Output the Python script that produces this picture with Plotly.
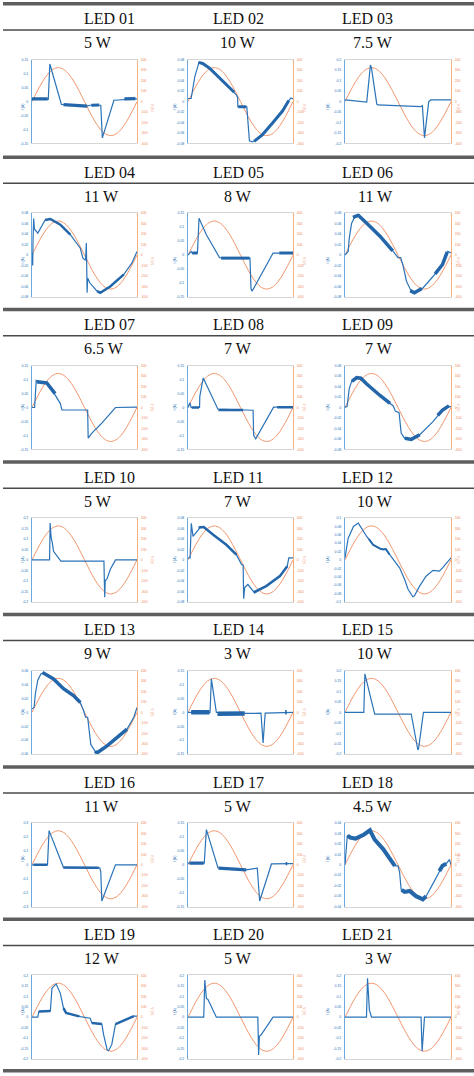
import plotly.graph_objects as go

# ---------------- data ----------------
NAMES = ["LED 01", "LED 02", "LED 03", "LED 04", "LED 05", "LED 06", "LED 07",
         "LED 08", "LED 09", "LED 10", "LED 11", "LED 12", "LED 13", "LED 14",
         "LED 15", "LED 16", "LED 17", "LED 18", "LED 19", "LED 20", "LED 21"]
POWER = ["5 W", "10 W", "7.5 W", "11 W", "8 W", "11 W", "6.5 W", "7 W", "7 W",
         "5 W", "7 W", "10 W", "9 W", "3 W", "10 W", "11 W", "5 W", "4.5 W",
         "12 W", "5 W", "3 W"]
I_MAX = [0.15, 0.08, 0.2, 0.08, 0.15, 0.08, 0.15, 0.15, 0.08, 0.2, 0.08, 0.1,
         0.06, 0.15, 0.2, 0.3, 0.15, 0.04, 0.2, 0.2, 0.2]
I_STEP = [0.05, 0.02, 0.05, 0.02, 0.05, 0.02, 0.05, 0.05, 0.02, 0.05, 0.02, 0.02,
          0.02, 0.05, 0.05, 0.1, 0.05, 0.01, 0.05, 0.05, 0.05]
V_TICKS = [-400, -300, -200, -100, 0, 100, 200, 300, 400]

# voltage (ms, V)
V_T = [0, 1, 2, 3, 4, 5, 6, 7, 8, 9, 10, 11, 12, 13, 14, 15, 16, 17, 18, 19, 20]
V_V = [0, 100, 191, 263, 309, 325, 309, 263, 191, 100, 0, -100, -191, -263,
       -309, -325, -309, -263, -191, -100, 0]

# current (ms, A): main trace and noisy (thick) portions
LED01_T = [0, 3.1, 3.4, 5.6, 10.5, 11.0, 13.1, 13.4, 15.6, 17.5, 20]
LED01_I = [0.01, 0.008, 0.135, -0.01, -0.016, -0.013, -0.013, -0.13, 0.005, 0.008, 0.01]
LED01_BT = [0, 3.0, None, 6.0, 10.5, None, 11.3, 12.8, None, 17.6, 19.7]
LED01_BI = [0.01, 0.01, None, -0.011, -0.016, None, -0.013, -0.012, None, 0.01, 0.011]

LED02_T = [0, 0.6, 1.3, 2.1, 2.8, 4.1, 6.0, 7.9, 9.2, 9.45, 9.5, 11.2, 11.7, 12.3, 14.2, 16.1, 18.0, 19.2, 19.6, 20]
LED02_I = [0.006, 0.006, 0.048, 0.075, 0.073, 0.064, 0.045, 0.026, 0.013, 0.008, -0.01, -0.01, -0.075, -0.077, -0.063, -0.041, -0.018, 0.002, 0.007, 0.005]
LED02_BT = [2.0, 2.8, 4.1, 6.0, 7.9, 8.8, None, 9.6, 11.1, None, 12.6, 14.2, 16.1, 18.0, 19.2]
LED02_BI = [0.075, 0.073, 0.064, 0.045, 0.026, 0.018, None, -0.01, -0.01, None, -0.076, -0.063, -0.041, -0.018, 0.002]

LED03_T = [0, 4.1, 4.8, 5.0, 6.0, 6.2, 14.3, 14.6, 15.0, 15.8, 16.2, 20]
LED03_I = [0.008, -0.002, 0.175, 0.16, -0.012, -0.016, -0.024, -0.02, -0.173, 0.0, 0.008, 0.008]
LED03_BT = []
LED03_BI = []

LED04_T = [0, 0.13, 0.2, 0.32, 0.45, 1.1, 2.5, 3.5, 5.4, 7.3, 9.2, 9.7, 10.2, 10.35, 10.5, 10.6, 11.0, 12.4, 13.0, 14.9, 17.5, 19.05, 20]
LED04_I = [0.004, -0.02, 0.03, 0.07, 0.05, 0.042, 0.067, 0.069, 0.058, 0.039, 0.013, -0.006, -0.01, 0.023, -0.072, -0.044, -0.053, -0.069, -0.072, -0.06, -0.037, -0.015, 0.007]
LED04_BT = [2.5, 3.5, 5.4, 7.3, None, 12.4, 13.0, 14.9, 17.5]
LED04_BI = [0.067, 0.069, 0.058, 0.039, None, -0.069, -0.072, -0.06, -0.037]

LED05_T = [0, 0.6, 0.8, 1.8, 2.1, 3.5, 6.0, 11.8, 12.0, 12.2, 16.2, 20]
LED05_I = [0, 0.013, 0.007, 0.007, 0.132, 0.073, -0.009, -0.011, -0.12, -0.13, 0.007, 0.007]
LED05_BT = [0.8, 1.8, None, 6.3, 11.7, None, 17.4, 20]
LED05_BI = [0.007, 0.007, None, -0.011, -0.011, None, 0.007, 0.007]

LED06_T = [0, 0.6, 0.8, 1.25, 1.9, 2.5, 4.1, 6.6, 9.1, 10.0, 10.5, 10.9, 11.6, 12.5, 13.1, 14.7, 16.6, 18.4, 19.4, 20]
LED06_I = [0, 0.007, 0.032, 0.061, 0.074, 0.076, 0.061, 0.036, 0.007, -0.005, -0.005, -0.018, -0.05, -0.069, -0.072, -0.063, -0.041, -0.018, 0.007, 0.004]
LED06_BT = [1.5, 2.5, 4.1, 6.6, 9.0, None, 12.3, 13.1, 14.5, None, 17.0, 18.4, 19.3]
LED06_BI = [0.072, 0.076, 0.061, 0.036, 0.008, None, -0.068, -0.072, -0.064, None, -0.036, -0.018, 0.006]

LED07_T = [0, 0.5, 0.8, 1.5, 2.8, 4.4, 5.4, 5.7, 10.6, 10.7, 11.4, 13.0, 15.9, 20]
LED07_I = [0, 0, 0.097, 0.092, 0.087, 0.045, 0.014, -0.009, -0.009, -0.11, -0.092, -0.062, 0, 0.001]
LED07_BT = [0.9, 2.8, 4.4]
LED07_BI = [0.092, 0.088, 0.05]

LED08_T = [0, 0.35, 0.6, 2.2, 2.25, 2.9, 5.7, 12.4, 12.5, 12.9, 16.3, 20]
LED08_I = [0, 0.017, 0, 0, 0.04, 0.106, -0.006, -0.01, -0.1, -0.112, 0.001, 0.001]
LED08_BT = [0.7, 2.1, None, 5.8, 10.5, None, 17.0, 20]
LED08_BI = [0, 0, None, -0.009, -0.009, None, 0.001, 0.001]

LED09_T = [0, 0.4, 0.8, 1.25, 2.2, 3.0, 4.1, 6.6, 9.1, 9.5, 10.2, 10.6, 11.25, 12.5, 14.1, 16.6, 18.4, 19.4, 20]
LED09_I = [0, 0.002, 0.036, 0.05, 0.057, 0.056, 0.045, 0.023, 0.003, -0.007, -0.01, -0.049, -0.059, -0.061, -0.052, -0.027, -0.005, 0.003, 0.001]
LED09_BT = [1.3, 2.2, 3.0, 4.1, 6.6, 8.5, None, 11.3, 12.5, 14.1, None, 17.5, 18.4, 19.6]
LED09_BI = [0.05, 0.057, 0.056, 0.045, 0.023, 0.008, None, -0.059, -0.061, -0.052, None, -0.015, -0.005, 0.003]

LED10_T = [0, 3.35, 3.45, 3.65, 3.85, 4.1, 5.5, 13.7, 13.85, 13.95, 14.3, 14.9, 15.9, 20]
LED10_I = [0, 0, 0.176, 0.105, 0.085, 0.041, -0.006, -0.006, -0.178, -0.1, -0.09, -0.046, 0, 0]
LED10_BT = []
LED10_BI = []

LED11_T = [0, 0.4, 0.63, 0.95, 2.5, 3.0, 4.8, 7.3, 9.2, 10.2, 10.5, 10.6, 10.8, 11.4, 12.7, 14.9, 17.5, 18.9, 19.2, 20]
LED11_I = [0.004, 0.004, 0.07, 0.045, 0.064, 0.063, 0.048, 0.029, 0.01, -0.009, -0.01, -0.074, -0.053, -0.047, -0.063, -0.05, -0.031, -0.012, 0.004, 0.004]
LED11_BT = [2.0, 3.0, 4.8, 7.3, 9.2, None, 12.5, 14.9, 17.5, 18.9]
LED11_BI = [0.062, 0.063, 0.048, 0.029, 0.01, None, -0.062, -0.05, -0.031, -0.012]

LED12_T = [0, 0.6, 1.6, 2.5, 2.9, 4.1, 5.3, 6.6, 7.2, 7.7, 8.4, 9.4, 10.3, 11.25, 11.9, 12.8, 13.1, 14.1, 15.3, 16.6, 17.8, 18.4, 19.4, 20]
LED12_I = [0.005, 0.052, 0.08, 0.088, 0.08, 0.056, 0.036, 0.027, 0.025, 0.026, 0.013, -0.003, -0.019, -0.047, -0.07, -0.088, -0.086, -0.062, -0.039, -0.025, -0.027, -0.019, -0.003, 0.005]
LED12_BT = [4.5, 5.3, 6.6, 7.2, 7.7, 8.4]
LED12_BI = [0.05, 0.036, 0.027, 0.025, 0.026, 0.013]

LED13_T = [0, 0.4, 0.63, 1.1, 1.7, 2.2, 4.1, 6.0, 7.9, 9.2, 9.8, 10.2, 10.6, 10.8, 11.2, 12.1, 12.4, 14.3, 16.2, 18.1, 19.4, 20]
LED13_I = [0.005, 0.007, 0.026, 0.046, 0.055, 0.057, 0.048, 0.034, 0.024, 0.014, 0.003, -0.007, -0.007, -0.022, -0.046, -0.057, -0.058, -0.048, -0.036, -0.024, -0.007, 0.007]
LED13_BT = [2.0, 4.1, 6.0, 7.9, 9.2, None, 12.0, 12.4, 14.3, 16.2, 18.1]
LED13_BI = [0.057, 0.048, 0.034, 0.024, 0.014, None, -0.056, -0.058, -0.048, -0.036, -0.024]

LED14_T = [0, 4.2, 4.45, 5.4, 11, 13.9, 14.3, 14.7, 20]
LED14_I = [0, 0, 0.12, 0, -0.004, -0.003, -0.11, -0.003, 0]
LED14_BT = [0.6, 4.1, None, 5.6, 10.8, None, 18.5, 18.8]
LED14_BI = [0.0, 0.0, None, -0.005, -0.004, None, 0.0, 0.0]

LED15_T = [0, 3.55, 3.75, 5.6, 12.5, 13.75, 13.9, 14.8, 20]
LED15_I = [0, 0, 0.184, -0.008, -0.008, -0.18, -0.17, 0, 0]
LED15_BT = []
LED15_BI = []

LED16_T = [0, 2.95, 3.25, 6.0, 12.9, 13.1, 13.3, 15.9, 20]
LED16_I = [0, 0, 0.245, -0.02, -0.022, -0.05, -0.26, 0, 0]
LED16_BT = [0.3, 2.9, None, 6.0, 12.7]
LED16_BI = [0, 0, None, -0.02, -0.021]

LED17_T = [0, 3.1, 3.5, 5.7, 11.1, 13.2, 13.65, 15.9, 20]
LED17_I = [0.006, 0.006, 0.126, -0.01, -0.018, -0.012, -0.13, 0.003, 0.004]
LED17_BT = [0.3, 3.0, None, 5.8, 11.1, None, 18.6, 18.9]
LED17_BI = [0.006, 0.006, None, -0.012, -0.018, None, 0.004, 0.004]

LED18_T = [0, 0.44, 1.0, 2.0, 3.0, 3.6, 4.7, 5.6, 7.2, 8.4, 9.4, 10.0, 10.3, 10.6, 11.25, 12.2, 13.4, 14.7, 15.3, 16.6, 17.8, 18.4, 19.1, 19.7, 20]
LED18_I = [0, 0.028, 0.026, 0.025, 0.027, 0.029, 0.033, 0.024, 0.015, 0.006, -0.001, -0.001, -0.007, -0.024, -0.026, -0.025, -0.03, -0.033, -0.03, -0.018, -0.006, -0.001, 0.001, 0.005, 0.0]
LED18_BT = [0.5, 1.0, 2.0, 3.0, 3.6, 4.7, 5.6, 7.2, 8.4, 9.4, None, 10.7, 11.25, 12.2, 13.4, 14.7, 15.3, None, 17.8, 18.4, 19.1]
LED18_BI = [0.028, 0.026, 0.025, 0.027, 0.029, 0.033, 0.024, 0.015, 0.006, -0.001, None, -0.024, -0.026, -0.025, -0.03, -0.033, -0.03, None, -0.006, -0.001, 0.001]

LED19_T = [0, 1.1, 1.3, 3.5, 3.8, 4.6, 5.4, 6.0, 6.5, 9.2, 11.1, 11.4, 13.3, 13.65, 14.3, 14.6, 15.2, 15.9, 19.4, 20]
LED19_I = [0, 0, 0.027, 0.03, 0.138, 0.159, 0.114, 0.043, 0.02, 0.003, -0.005, -0.028, -0.033, -0.084, -0.155, -0.16, -0.13, -0.033, 0.005, 0.005]
LED19_BT = [1.3, 3.5, None, 6.0, 6.5, 9.0, None, 11.4, 13.3, None, 15.9, 19.4]
LED19_BI = [0.027, 0.03, None, 0.043, 0.02, 0.004, None, -0.028, -0.033, None, -0.033, 0.005]

LED20_T = [0, 3.0, 3.2, 3.5, 3.8, 5.4, 13.3, 13.45, 13.6, 13.9, 16.2, 20]
LED20_I = [0, 0, 0.178, 0.09, 0.085, 0, 0, -0.18, -0.09, -0.085, 0, 0]
LED20_BT = []
LED20_BI = []

LED21_T = [0, 4.05, 4.25, 4.6, 5.0, 14.35, 14.55, 15.0, 20]
LED21_I = [0, 0, 0.186, 0.035, 0, 0, -0.163, 0, 0]
LED21_BT = []
LED21_BI = []

CUR_T = [LED01_T, LED02_T, LED03_T, LED04_T, LED05_T, LED06_T, LED07_T, LED08_T, LED09_T, LED10_T, LED11_T,
         LED12_T, LED13_T, LED14_T, LED15_T, LED16_T, LED17_T, LED18_T, LED19_T, LED20_T, LED21_T]
CUR_I = [LED01_I, LED02_I, LED03_I, LED04_I, LED05_I, LED06_I, LED07_I, LED08_I, LED09_I, LED10_I, LED11_I,
         LED12_I, LED13_I, LED14_I, LED15_I, LED16_I, LED17_I, LED18_I, LED19_I, LED20_I, LED21_I]
BAND_T = [LED01_BT, LED02_BT, LED03_BT, LED04_BT, LED05_BT, LED06_BT, LED07_BT, LED08_BT, LED09_BT, LED10_BT, LED11_BT,
          LED12_BT, LED13_BT, LED14_BT, LED15_BT, LED16_BT, LED17_BT, LED18_BT, LED19_BT, LED20_BT, LED21_BT]
BAND_I = [LED01_BI, LED02_BI, LED03_BI, LED04_BI, LED05_BI, LED06_BI, LED07_BI, LED08_BI, LED09_BI, LED10_BI, LED11_BI,
          LED12_BI, LED13_BI, LED14_BI, LED15_BI, LED16_BI, LED17_BI, LED18_BI, LED19_BI, LED20_BI, LED21_BI]

# ---------------- layout / style ----------------
W, H = 474, 1076
COL_X = [(32, 137), (188, 293), (345, 451)]
COL_C = [82, 238, 395]
BAR_TOP = [0, 154, 307, 460, 613, 766, 919]
END_BAR = 1071
BAND_W = [3.2, 3, 0, 2.5, 3, 3.5, 3.5, 2.5, 3.5, 0, 2.5, 2, 3.5, 4.5, 0, 2.5, 3.2, 4, 2.5, 0, 0]

BLUE = "#2a73b8"
BLUE_D = "#2466aa"
BLUE_L = "#6fa8dc"
ORANGE = "#ef8a5e"
ORANGE_L = "#f4b183"
SERIF = "Liberation Serif, Times New Roman, serif"

fig = go.Figure()
layout = dict(width=W, height=H, margin=dict(l=0, r=0, t=0, b=0),
              paper_bgcolor="white", plot_bgcolor="white", showlegend=False)
shapes, annotations = [], []

for k in range(21):
    r, c = divmod(k, 3)
    x0, x1 = COL_X[c]
    top = BAR_TOP[r] + 58
    bot = BAR_TOP[r] + 142
    n = k + 1
    xr = "x" if n == 1 else f"x{n}"
    xk = "xaxis" if n == 1 else f"xaxis{n}"
    yvr = "y" if n == 1 else f"y{n}"
    yvk = "yaxis" if n == 1 else f"yaxis{n}"
    ycr = f"y{n + 21}"
    yck = f"yaxis{n + 21}"
    R, s = I_MAX[k], I_STEP[k]
    m = int(round(R / s))
    ivals = [round(j * s, 4) for j in range(-m, m + 1)]

    layout[xk] = dict(domain=[x0 / W, x1 / W], range=[0, 20], anchor=yvr,
                      showline=True, mirror=True, linecolor="#d6d6d6", linewidth=1,
                      showticklabels=False, showgrid=False, zeroline=False, ticks="")
    layout[yvk] = dict(domain=[1 - bot / H, 1 - top / H], range=[-400, 400], side="right",
                       anchor=xr, tickvals=V_TICKS, ticktext=[str(v) for v in V_TICKS],
                       tickfont=dict(size=3.5, color=ORANGE, family="Arial"), ticklabelstandoff=2,
                       showline=True, linecolor=ORANGE_L, linewidth=1,
                       showgrid=False, zeroline=False, ticks="")
    layout[yck] = dict(overlaying=yvr, side="left", anchor=xr, range=[-R, R],
                       tickvals=ivals, ticktext=[f"{v:g}" for v in ivals],
                       tickfont=dict(size=3.5, color=BLUE, family="Arial"), ticklabelstandoff=2,
                       showline=True, linecolor=BLUE_L, linewidth=1,
                       showgrid=False, zeroline=False, ticks="")

    fig.add_trace(go.Scatter(x=V_T, y=V_V, xaxis=xr, yaxis=yvr, mode="lines",
                             line=dict(color=ORANGE, width=0.9, shape="spline"),
                             hoverinfo="skip"))
    fig.add_trace(go.Scatter(x=CUR_T[k], y=CUR_I[k], xaxis=xr, yaxis=ycr, mode="lines",
                             line=dict(color=BLUE, width=1.2), hoverinfo="skip"))
    if BAND_T[k]:
        fig.add_trace(go.Scatter(x=BAND_T[k], y=BAND_I[k], xaxis=xr, yaxis=ycr, mode="lines",
                                 line=dict(color=BLUE_D, width=BAND_W[k]), connectgaps=False,
                                 hoverinfo="skip"))

    cy = (top + bot) / 2
    annotations.append(dict(xref="paper", yref="paper", x=(x0 - 13) / W, y=1 - cy / H,
                            text="I (A)", showarrow=False, textangle=-90,
                            font=dict(size=3.5, color=BLUE, family="Arial")))
    annotations.append(dict(xref="paper", yref="paper", x=(x1 + 11) / W, y=1 - cy / H,
                            text="V (V)", showarrow=False, textangle=90,
                            font=dict(size=3.5, color=ORANGE, family="Arial")))
    annotations.append(dict(xref="paper", yref="paper", x=COL_C[c] / W,
                            y=1 - (BAR_TOP[r] + 17) / H, text=NAMES[k], showarrow=False,
                            yanchor="middle", font=dict(size=16, color="#111111", family=SERIF)))
    annotations.append(dict(xref="paper", yref="paper", x=COL_C[c] / W,
                            y=1 - (BAR_TOP[r] + 41) / H, text=POWER[k], showarrow=False,
                            yanchor="middle", font=dict(size=16, color="#111111", family=SERIF)))

for b in BAR_TOP + [END_BAR]:
    shapes.append(dict(type="rect", xref="paper", yref="paper", x0=3 / W, x1=1,
                       y0=1 - (b + 3.5) / H, y1=1 - b / H, fillcolor="#5e5e5e",
                       line=dict(width=0), layer="above"))
for b in BAR_TOP:
    yy = 1 - (b + 28) / H
    shapes.append(dict(type="line", xref="paper", yref="paper", x0=3 / W, x1=1,
                       y0=yy, y1=yy, line=dict(color="#4a4a4a", width=1.5)))

layout["shapes"] = shapes
layout["annotations"] = annotations
fig.update_layout(**layout)
fig.write_html("out.html")
